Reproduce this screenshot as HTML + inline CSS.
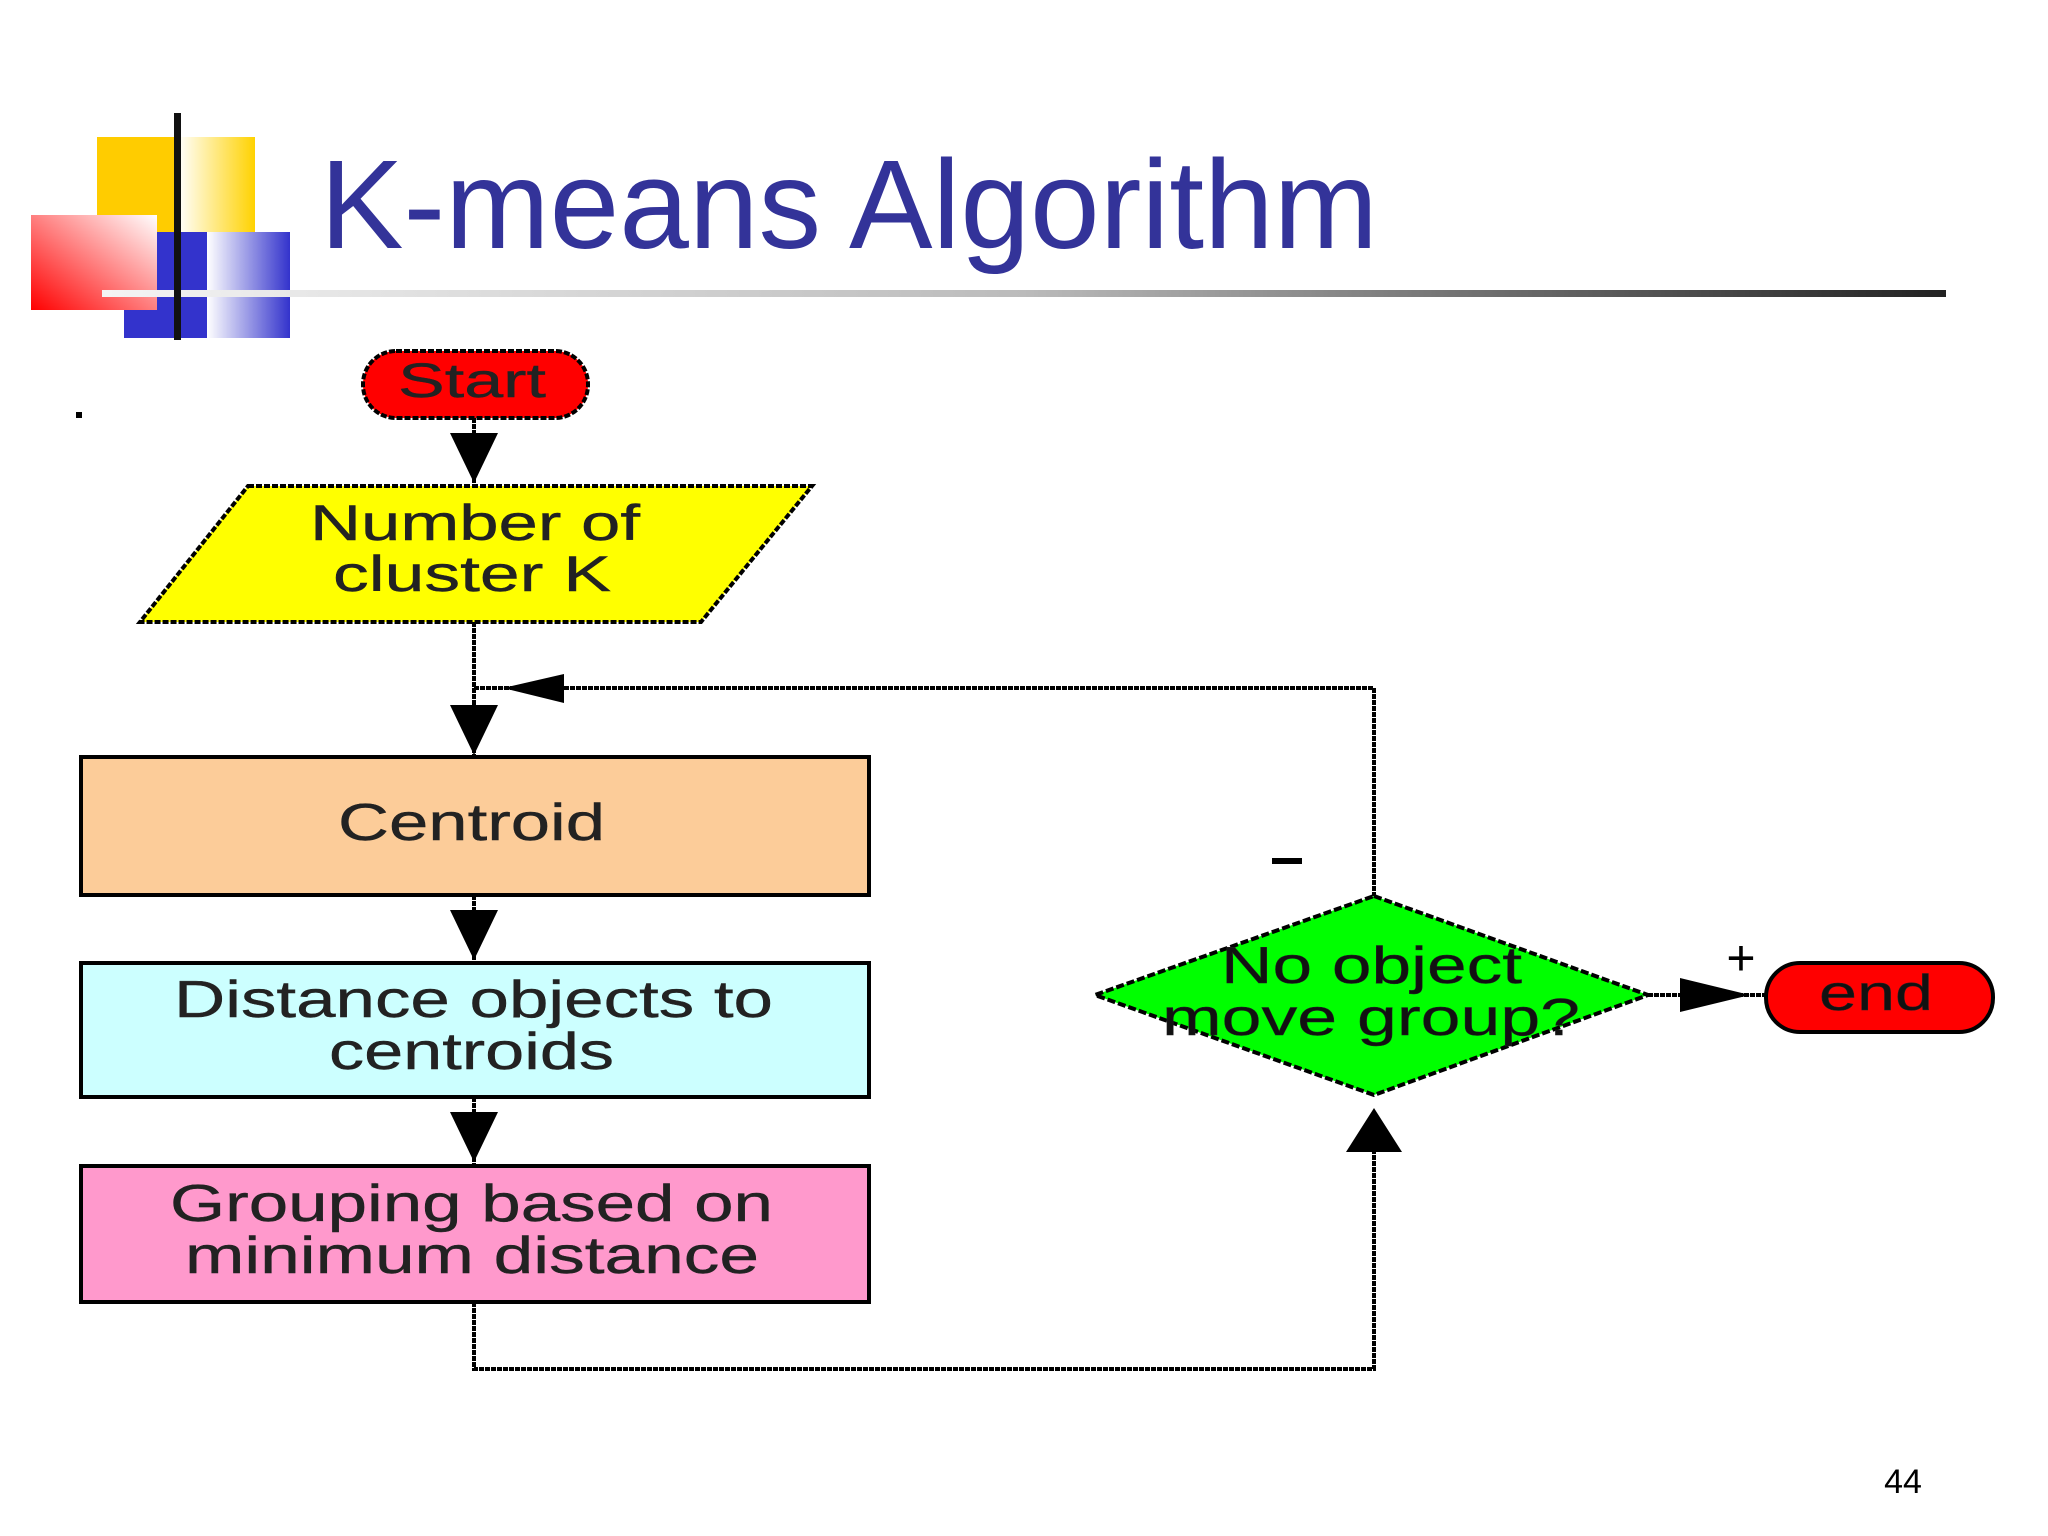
<!DOCTYPE html>
<html><head><meta charset="utf-8"><style>
html,body{margin:0;padding:0;background:#fff;}
svg{display:block;}
text{font-family:"Liberation Sans",sans-serif;}
</style></head><body>
<svg width="2048" height="1536" viewBox="0 0 2048 1536" xmlns="http://www.w3.org/2000/svg">
<defs>
<linearGradient id="yg" x1="0" x2="1" y1="0" y2="0"><stop offset="0" stop-color="#fff"/><stop offset="1" stop-color="#ffd200"/></linearGradient>
<linearGradient id="bg" x1="0" x2="1" y1="0" y2="0"><stop offset="0" stop-color="#fff"/><stop offset="1" stop-color="#3333cc"/></linearGradient>
<linearGradient id="rg" x1="0" x2="1" y1="1" y2="0"><stop offset="0" stop-color="#ff0000"/><stop offset="1" stop-color="#fff"/></linearGradient>
<linearGradient id="lg" x1="0" x2="1" y1="0" y2="0"><stop offset="0" stop-color="#f4f4f4"/><stop offset="0.5" stop-color="#bbb"/><stop offset="1" stop-color="#222"/></linearGradient>
</defs>
<rect x="97" y="137" width="81" height="95" fill="#ffcc00"/>
<rect x="178" y="137" width="77" height="95" fill="url(#yg)"/>
<rect x="124" y="232" width="83" height="106" fill="#3333cc"/>
<rect x="207" y="232" width="83" height="106" fill="url(#bg)"/>
<rect x="31" y="215" width="126" height="95" fill="url(#rg)"/>
<rect x="102" y="290" width="1844" height="7" fill="url(#lg)"/>
<rect x="174" y="113" width="7" height="227" fill="#111"/>
<text x="320" y="248" font-size="126" fill="#333399" textLength="1058" lengthAdjust="spacingAndGlyphs">K-means Algorithm</text>
<rect x="76" y="412" width="6" height="6" fill="#000"/>

<g stroke="#000" stroke-width="4" fill="none" stroke-dasharray="5 1">
<line x1="474" y1="418" x2="474" y2="486"/>
<line x1="474" y1="622" x2="474" y2="757"/>
<polyline points="474,688 1374,688 1374,896"/>
<line x1="474" y1="895" x2="474" y2="963"/>
<line x1="474" y1="1097" x2="474" y2="1166"/>
<polyline points="474,1302 474,1369 1374,1369 1374,1120"/>
<line x1="1648" y1="995" x2="1766" y2="995"/>
</g>
<g fill="#000">
<polygon points="450,433 498,433 474,483"/>
<polygon points="450,705 498,705 474,755"/>
<polygon points="503,688 564,674 564,703"/>
<polygon points="450,910 498,910 474,960"/>
<polygon points="450,1112 498,1112 474,1162"/>
<polygon points="1374,1108 1346,1152 1402,1152"/>
<polygon points="1680,978 1680,1012 1750,995"/>
</g>

<g fill="#222" stroke="#222" stroke-width="0.4">
<rect x="363" y="351" width="225" height="67" rx="33" fill="#ff0000" stroke="#000" stroke-width="4" stroke-dasharray="6 2"/>
<text x="398" y="397" font-size="48" textLength="148" lengthAdjust="spacingAndGlyphs">Start</text>

<polygon points="248,486 812,486 701,622 140,622" fill="#ffff00" stroke="#000" stroke-width="4" stroke-dasharray="6 2"/>
<text x="310" y="540" font-size="50" textLength="330" lengthAdjust="spacingAndGlyphs">Number of</text>
<text x="333" y="591" font-size="50" textLength="278" lengthAdjust="spacingAndGlyphs">cluster K</text>

<rect x="81" y="757" width="788" height="138" fill="#fccc99" stroke="#000" stroke-width="4"/>
<text x="338" y="840" font-size="52" textLength="267" lengthAdjust="spacingAndGlyphs">Centroid</text>

<rect x="81" y="963" width="788" height="134" fill="#ccffff" stroke="#000" stroke-width="4"/>
<text x="174" y="1017" font-size="52" textLength="599" lengthAdjust="spacingAndGlyphs">Distance objects to</text>
<text x="329" y="1069" font-size="52" textLength="285" lengthAdjust="spacingAndGlyphs">centroids</text>

<rect x="81" y="1166" width="788" height="136" fill="#ff99cc" stroke="#000" stroke-width="4"/>
<text x="170" y="1221" font-size="52" textLength="603" lengthAdjust="spacingAndGlyphs">Grouping based on</text>
<text x="185" y="1273" font-size="52" textLength="574" lengthAdjust="spacingAndGlyphs">minimum distance</text>

<polygon points="1374,896 1648,995 1374,1095 1095,995" fill="#00ff00" stroke="#000" stroke-width="4" stroke-dasharray="8 3"/>
<text x="1221" y="983" font-size="52" textLength="301" lengthAdjust="spacingAndGlyphs" fill="#111">No object</text>
<text x="1162" y="1035" font-size="52" textLength="418" lengthAdjust="spacingAndGlyphs" fill="#111">move group?</text>

<rect x="1766" y="963" width="227" height="69" rx="34" fill="#ff0000" stroke="#000" stroke-width="4"/>
<text x="1819" y="1010" font-size="50" textLength="114" lengthAdjust="spacingAndGlyphs" fill="#111">end</text>
</g>

<rect x="1272" y="858" width="30" height="6" fill="#000"/>
<text x="1741" y="975" font-size="50" text-anchor="middle" fill="#000">+</text>

<text x="1903" y="1493" font-size="34" text-anchor="middle" fill="#000">44</text>
</svg>
</body></html>
